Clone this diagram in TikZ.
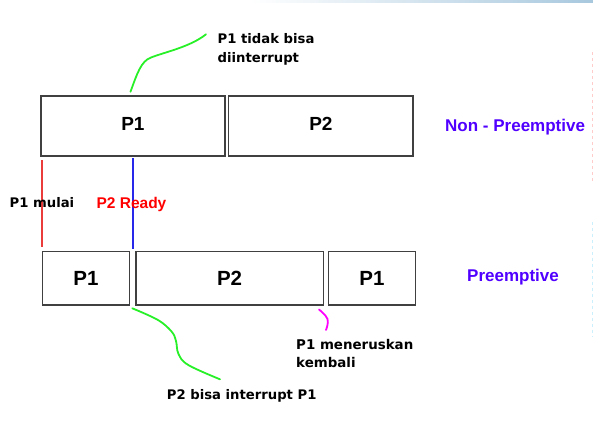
\documentclass[tikz,border=0pt]{standalone}
\usepackage{fontspec}
\setmainfont{Liberation Sans}
\newfontfamily\lblfont{DejaVu Sans}
\definecolor{boxgray}{RGB}{64,64,64}
\definecolor{titleblue}{RGB}{80,0,255}
\definecolor{mkred}{RGB}{235,60,60}
\definecolor{mkblue}{RGB}{40,40,235}
\definecolor{greenline}{RGB}{40,240,40}
\definecolor{pinkline}{RGB}{255,0,255}
\definecolor{txtred}{RGB}{255,0,0}
\definecolor{topblue}{RGB}{168,200,222}
\tikzset{
  procbox/.style={draw=boxgray, line width=1.3pt, inner sep=0pt, fill=white},
  toptext/.style={font=\bfseries\fontsize{19}{19}\selectfont, text depth=5pt},
  bottext/.style={font=\bfseries\fontsize{20.5}{20.5}\selectfont},
  lbl/.style={font=\lblfont\bfseries\fontsize{13.2}{19}\selectfont, inner sep=0pt, align=left},
  ttl/.style={font=\bfseries\fontsize{17}{17}\selectfont, text=titleblue, inner sep=0pt, anchor=base west},
  greencurve/.style={draw=greenline, line width=1.8pt, line cap=round},
  markline/.style={line width=1.3pt},
}
\begin{document}
\begin{tikzpicture}[x=1pt, y=-1pt]
\useasboundingbox (0,0) rectangle (593,421);
% top gradient strip
\shade[left color=white, right color=topblue] (250,0) rectangle (593,2.2);
% faint right edge marks
\draw[red!20, dashed, line width=0.6pt] (592,52) -- (592,182);
\draw[cyan!20, dashed, line width=0.6pt] (592,222) -- (592,337);

% Non-preemptive row
\node[procbox, toptext, minimum width=184pt, minimum height=60pt] (t1) at (132.9,126) {P1};
\node[procbox, toptext, minimum width=184.2pt, minimum height=60pt] (t2) at (320.9,126) {P2};
\node[ttl] (np) at (445,131.7) {Non - Preemptive};

% Preemptive row
\node[procbox, bottext, minimum width=86.6pt, minimum height=53.3pt] (b1) at (86,278.3) {P1};
\node[procbox, bottext, minimum width=187.3pt, minimum height=53.3pt, text depth=-2.5pt] (b2) at (229.6,278.3) {P2};
\node[procbox, bottext, minimum width=87.4pt, minimum height=53.3pt] (b3) at (372,278.3) {P1};
\node[ttl] (pe) at (467,281.5) {Preemptive};

% marker lines
\coordinate (r1) at (42,160);
\coordinate (r2) at (42,247);
\coordinate (u1) at (133,158);
\coordinate (u2) at (133,249);
\draw[markline, draw=mkred] (r1) -- (r2);
\draw[markline, draw=mkblue] (u1) -- (u2);

\node[lbl, anchor=base west] (mulai) at (9.5,207.7) {P1 mulai};
\node[font=\bfseries\fontsize{15.5}{15.5}\selectfont, text=txtred, inner sep=0pt, anchor=base west] (ready) at (96.4,208) {P2 Ready};

% annotations
\node[lbl, anchor=north west] (tidak) at (217.5,32.8) {P1 tidak bisa\\diinterrupt};
\coordinate (g1) at (130.5,91.7);
\coordinate (g2) at (206,34.3);
\draw[greencurve] (g1) .. controls (137,74) and (141,61) .. (151,57.5) .. controls (165,52) and (190,47) .. (g2);

\node[lbl, anchor=base west] (bisa) at (166.7,399) {P2 bisa interrupt P1};
\coordinate (h1) at (132.3,308.3);
\coordinate (h2) at (220,379.3);
\draw[greencurve] plot[smooth, tension=0.6] coordinates {(h1) (158,320) (171.7,331.7) (176,341) (178.5,354) (188.3,365) (h2)};

\node[lbl, anchor=north west, font=\lblfont\bfseries\fontsize{13.4}{18}\selectfont] (lanjut) at (296,339.5) {P1 meneruskan\\kembali};
\coordinate (m1) at (319,309.5);
\coordinate (m2) at (326,330);
\draw[draw=pinkline, line width=1.8pt, line cap=round] plot[smooth, tension=0.7] coordinates {(m1) (327.5,319) (m2)};
\end{tikzpicture}
\end{document}
